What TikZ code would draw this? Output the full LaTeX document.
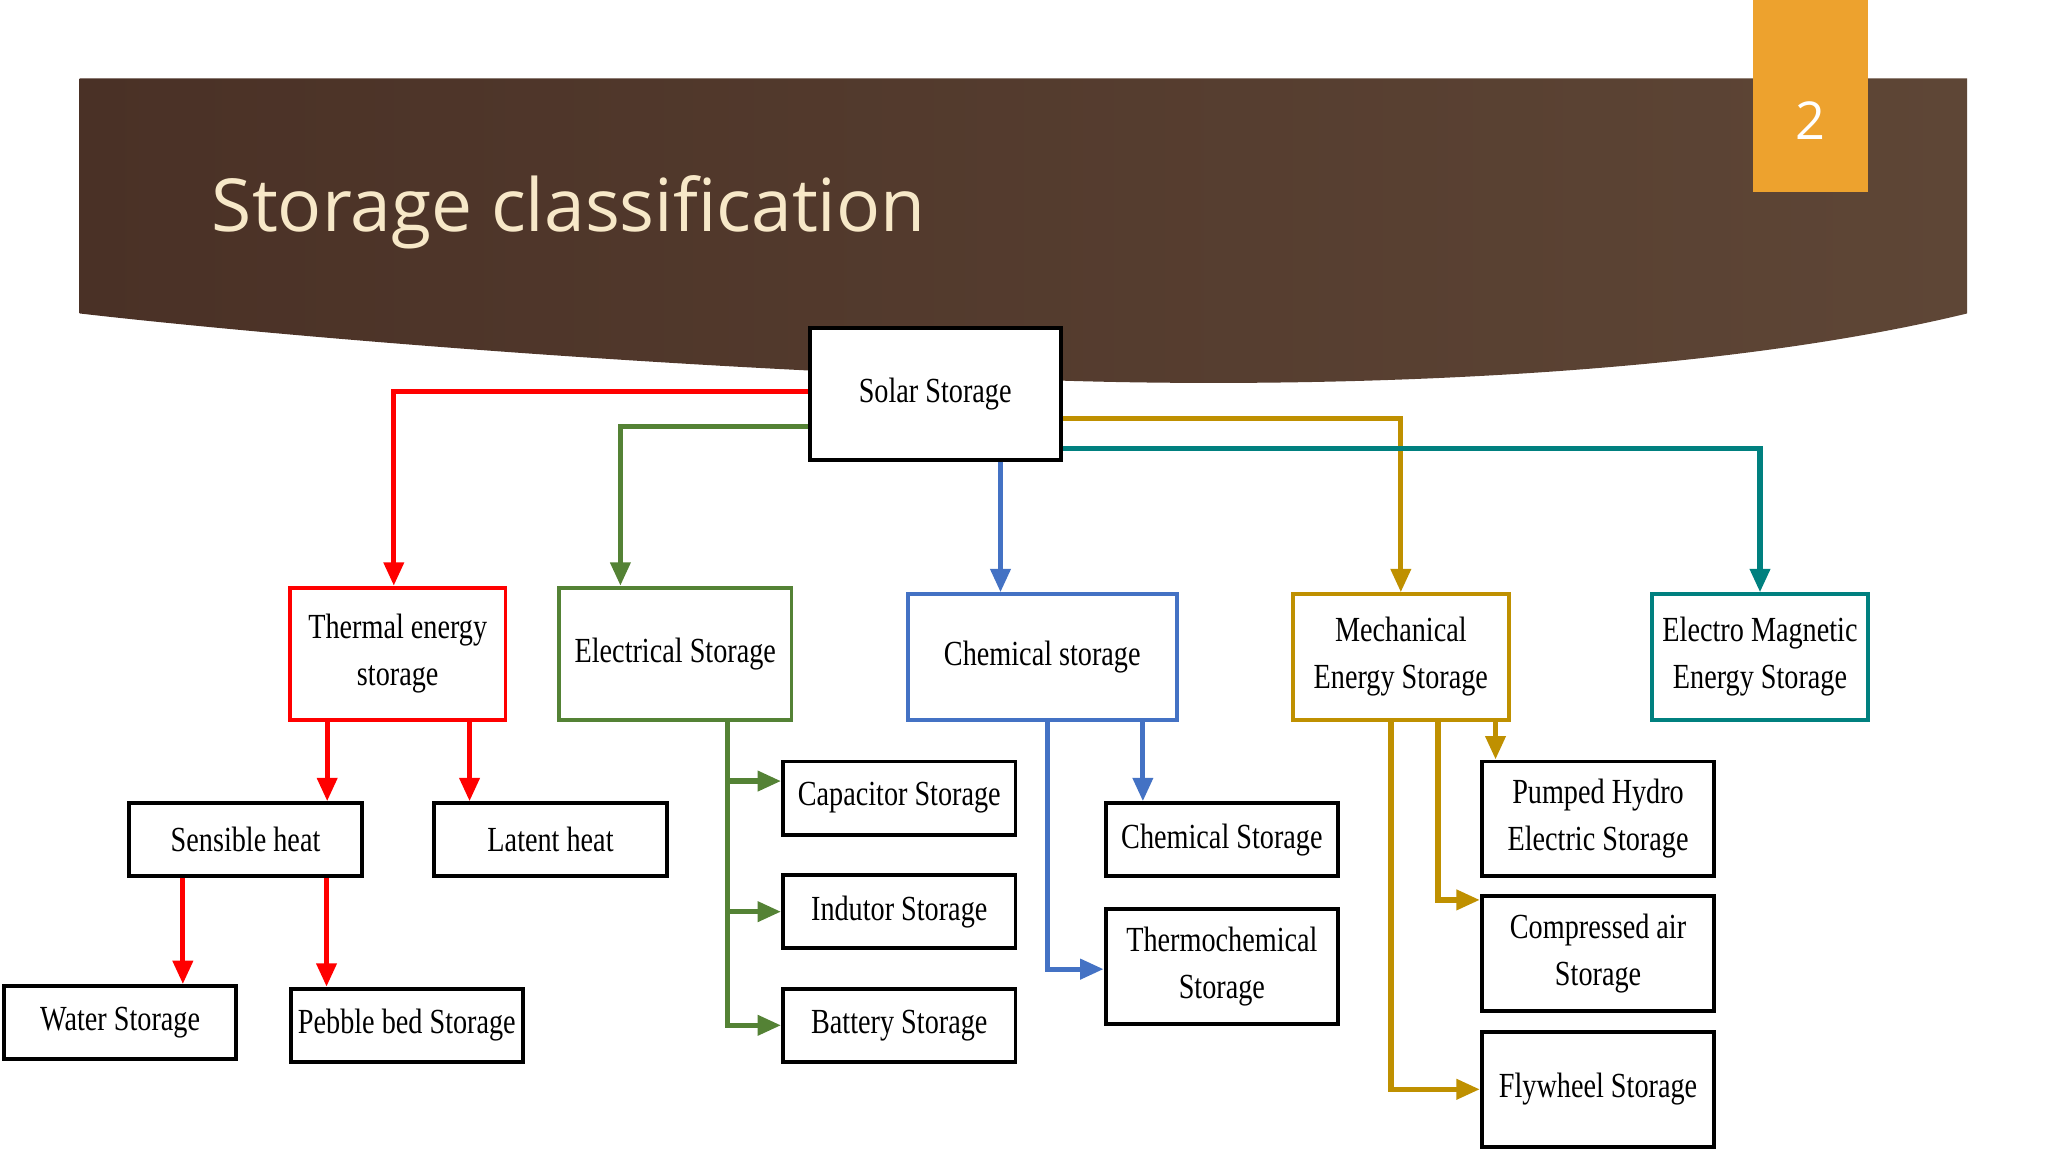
\documentclass[tikz,border=0pt]{standalone}
\usepackage{fontspec}
\setmainfont{Liberation Serif}[FakeStretch=0.8]
\newfontfamily\titlefont{Open Sans}
\usetikzlibrary{arrows.meta,calc}
\definecolor{cred}{HTML}{FF0000}
\definecolor{cgreen}{HTML}{548235}
\definecolor{cblue}{HTML}{4472C4}
\definecolor{cgold}{HTML}{BF9000}
\definecolor{cteal}{HTML}{00807F}
\definecolor{bandL}{HTML}{4A3126}
\definecolor{bandR}{HTML}{5E4636}
\definecolor{tabor}{HTML}{EDA22E}
\definecolor{titlec}{HTML}{F7E8C8}
\tikzset{
  box/.style={draw, line width=3pt, fill=white, align=center, inner sep=2pt,
    font=\fontsize{27}{36}\selectfont},
  conn/.style={line width=4pt, -{Triangle[length=18pt,width=15pt]}},
}
\begin{document}
\begin{tikzpicture}[x=1pt,y=-1pt]
\useasboundingbox (0,0) rectangle (1568,882);
\fill[white] (0,0) rectangle (1568,882);
% banner
\shade[left color=bandL, right color=bandR] (61,60) -- (1506,60) -- (1506,240)
  .. controls (1300,290) and (1000,298) .. (800,291)
  .. controls (500,282) and (200,256) .. (61,240) -- cycle;
\fill[tabor] (1342,0) rectangle (1430,147);
\node[text=white, font=\titlefont\fontsize{40}{44}\selectfont] (pnum) at (1386,92) {2};
\node[anchor=base west, text=titlec, font=\titlefont\fontsize{56}{60}\selectfont, inner sep=0pt] (title) at (162,177) {Storage classification};
% nodes
\node[box, minimum width=192pt, minimum height=101pt] (solar) at (716,301.5) {};
\node[font=\fontsize{27}{36}\selectfont] (solarlbl) at (716,302) {Solar Storage};
\node[box, draw=cred, minimum width=165pt, minimum height=101pt] (thermal) at (304.5,500.5) {Thermal energy\\storage};
\node[box, draw=cgreen, minimum width=178pt, minimum height=101pt] (elec) at (517,500.5) {Electrical Storage};
\node[box, draw=cblue, minimum width=206pt, minimum height=96pt] (chem) at (798,503) {Chemical storage};
\node[box, draw=cgold, minimum width=165pt, minimum height=96pt] (mech) at (1072.5,503) {Mechanical\\Energy Storage};
\node[box, draw=cteal, minimum width=165pt, minimum height=96pt] (em) at (1347.5,503) {Electro Magnetic\\Energy Storage};
\node[box, minimum width=178pt, minimum height=56pt] (sensible) at (188,643) {Sensible heat};
\node[box, minimum width=178pt, minimum height=56pt] (latent) at (421.5,643) {Latent heat};
\node[box, minimum width=178pt, minimum height=56pt] (water) at (92,783) {Water Storage};
\node[box, minimum width=178pt, minimum height=56pt] (pebble) at (311.5,785) {Pebble bed Storage};
\node[box, minimum width=178pt, minimum height=56pt] (cap) at (688.5,611) {Capacitor Storage};
\node[box, minimum width=178pt, minimum height=56pt] (ind) at (688.5,698) {Indutor Storage};
\node[box, minimum width=178pt, minimum height=56pt] (bat) at (688.5,785) {Battery Storage};
\node[box, minimum width=178pt, minimum height=56pt] (chemst) at (935.5,643) {Chemical Storage};
\node[box, minimum width=178pt, minimum height=88pt] (thermo) at (935.5,740) {Thermochemical\\Storage};
\node[box, minimum width=178pt, minimum height=88pt] (pumped) at (1223.5,627) {Pumped Hydro\\Electric Storage};
\node[box, minimum width=178pt, minimum height=88pt] (compr) at (1223.5,730) {Compressed air\\Storage};
\node[box, minimum width=178pt, minimum height=88pt] (fly) at (1223.5,834) {Flywheel Storage};
% connectors from solar
\draw[conn, cred] ([yshift=2pt]solar.west) -| ([xshift=-3pt]thermal.north);
\draw[conn, cgreen] ([yshift=-25pt]solar.west) -| ([xshift=-42pt]elec.north);
\draw[conn, cblue] ([xshift=50pt]solar.south) -- ([xshift=50pt]solar.south |- chem.north);
\draw[conn, cgold] ([yshift=-19pt]solar.east) -| (mech.north);
\draw[conn, cteal] ([yshift=-42pt]solar.east) -| (em.north);
% thermal
\draw[conn, cred] ([xshift=-54pt]thermal.south) -- ([xshift=-54pt]thermal.south |- sensible.north);
\draw[conn, cred] ([xshift=55pt]thermal.south) -- ([xshift=55pt]thermal.south |- latent.north);
\draw[conn, cred] ([xshift=-48pt]sensible.south) -- ([xshift=-48pt]sensible.south |- water.north);
\draw[conn, cred] ([xshift=62pt]sensible.south) -- ([xshift=62pt]sensible.south |- pebble.north);
% electrical
\draw[conn, cgreen] ([xshift=40pt]elec.south) |- ([yshift=13pt]cap.west);
\draw[conn, cgreen] ([xshift=40pt]elec.south) |- (ind.west);
\draw[conn, cgreen] ([xshift=40pt]elec.south) |- (bat.west);
% chemical
\draw[conn, cblue] ([xshift=77pt]chem.south) -- ([xshift=77pt]chem.south |- chemst.north);
\draw[conn, cblue] ([xshift=4pt]chem.south) |- ([yshift=-2pt]thermo.west);
% mechanical
\draw[conn, cgold] ([xshift=72.5pt]mech.south) -- ([xshift=72.5pt]mech.south |- pumped.north);
\draw[conn, cgold] ([xshift=28.5pt]mech.south) |- ([yshift=41pt]compr.west);
\draw[conn, cgold] ([xshift=-7.5pt]mech.south) |- (fly.west);
\end{tikzpicture}
\end{document}
